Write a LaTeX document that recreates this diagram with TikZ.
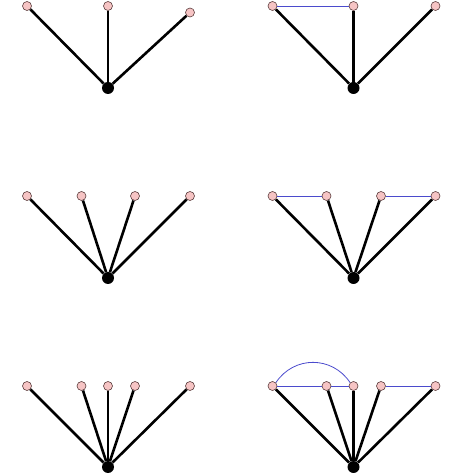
\documentclass[tikz,border=0pt]{standalone}
\usepackage{xcolor}
\usepackage{tikz}
\usetikzlibrary{arrows.meta,positioning}

\definecolor{leafpink}{RGB}{246,196,196}
\definecolor{leafrim}{RGB}{90,60,60}
\definecolor{linkblue}{RGB}{75,75,205}

\begin{document}
\begin{tikzpicture}[
  x=1pt, y=1pt,
  leaf/.style={circle, draw=leafrim, fill=leafpink, line width=0.6pt, minimum size=9pt, inner sep=0pt},
  hub/.style={circle, fill=black, minimum size=12pt, inner sep=0pt},
  spoke/.style={line width=2.6pt, black},
  link/.style={line width=0.8pt, linkblue}
]
\useasboundingbox (0,0) rectangle (474,476);

% Top row
\node[hub] (ha) at (108,388) {};
\node[leaf] (a1) at (27,470) {};
\node[leaf] (a2) at (108,470) {};
\node[leaf] (a3) at (190,463.5) {};

\node[hub] (hb) at (353.5,388) {};
\node[leaf] (b1) at (272.5,470) {};
\node[leaf] (b2) at (353.5,470) {};
\node[leaf] (b3) at (435.5,470) {};

% Middle row
\node[hub] (hc) at (108,198) {};
\node[leaf] (c1) at (27,280) {};
\node[leaf] (c2) at (81.5,280) {};
\node[leaf] (c3) at (135,280) {};
\node[leaf] (c4) at (190,280) {};

\node[hub] (hd) at (353.5,198) {};
\node[leaf] (d1) at (272.5,280) {};
\node[leaf] (d2) at (326.5,280) {};
\node[leaf] (d3) at (381,280) {};
\node[leaf] (d4) at (435.5,280) {};

% Bottom row
\node[hub] (he) at (108,9) {};
\node[leaf] (e1) at (27,90) {};
\node[leaf] (e2) at (81.5,90) {};
\node[leaf] (e3) at (108,90) {};
\node[leaf] (e4) at (135,90) {};
\node[leaf] (e5) at (190,90) {};

\node[hub] (hf) at (353.5,9) {};
\node[leaf] (f1) at (272.5,90) {};
\node[leaf] (f2) at (326.5,90) {};
\node[leaf] (f3) at (353.5,90) {};
\node[leaf] (f4) at (381,90) {};
\node[leaf] (f5) at (435.5,90) {};

% Spokes
\draw[spoke] (ha) -- (a1);
\draw[spoke] (ha) -- (a2);
\draw[spoke] (ha) -- (a3);

\draw[spoke] (hb) -- (b1);
\draw[spoke] (hb) -- (b2);
\draw[spoke] (hb) -- (b3);

\draw[spoke] (hc) -- (c1);
\draw[spoke] (hc) -- (c2);
\draw[spoke] (hc) -- (c3);
\draw[spoke] (hc) -- (c4);

\draw[spoke] (hd) -- (d1);
\draw[spoke] (hd) -- (d2);
\draw[spoke] (hd) -- (d3);
\draw[spoke] (hd) -- (d4);

\draw[spoke] (he) -- (e1);
\draw[spoke] (he) -- (e2);
\draw[spoke] (he) -- (e3);
\draw[spoke] (he) -- (e4);
\draw[spoke] (he) -- (e5);

\draw[spoke] (hf) -- (f1);
\draw[spoke] (hf) -- (f2);
\draw[spoke] (hf) -- (f3);
\draw[spoke] (hf) -- (f4);
\draw[spoke] (hf) -- (f5);

% Blue links
\draw[link] (b1) -- (b2);
\draw[link] (d1) -- (d2);
\draw[link] (d3) -- (d4);
\draw[link] (f1) -- (f2);
\draw[link] (f2) -- (f3);
\draw[link] (f4) -- (f5);
\draw[link] (f1.north east) .. controls +(18,27) and +(-18,27) .. (f3.north west);

\end{tikzpicture}
\end{document}
